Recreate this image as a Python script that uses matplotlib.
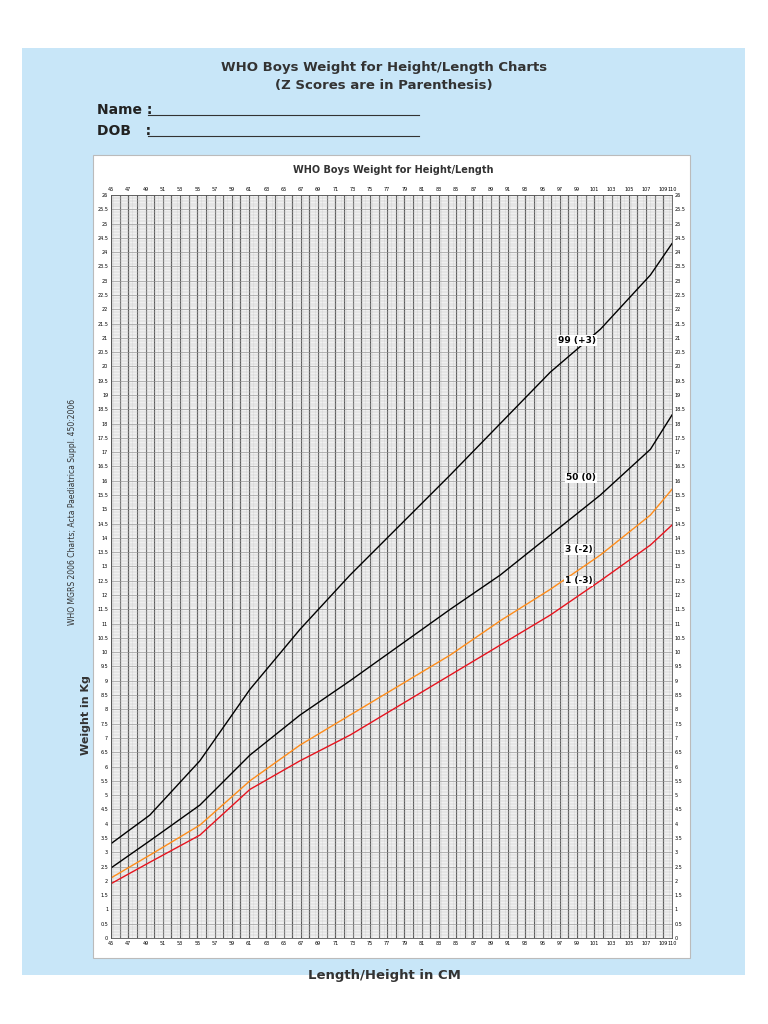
import numpy as np
import matplotlib.pyplot as plt
from matplotlib.patches import Rectangle
from matplotlib.ticker import MultipleLocator

# length/height in cm, weight in kg
length = [45, 49.5, 55.3, 61.1, 66.9, 72.7, 78.5, 84.3, 90.1, 95.9, 101.7, 107.5, 110]
p99 = [3.3, 4.3, 6.2, 8.7, 10.8, 12.7, 14.45, 16.2, 18.0, 19.8, 21.3, 23.2, 24.3]
p50 = [2.45, 3.4, 4.65, 6.4, 7.8, 9.0, 10.25, 11.5, 12.7, 14.1, 15.5, 17.1, 18.3]
p3 = [2.1, 2.9, 3.95, 5.5, 6.75, 7.8, 8.85, 9.9, 11.1, 12.2, 13.4, 14.8, 15.7]
p1 = [1.9, 2.65, 3.6, 5.2, 6.2, 7.1, 8.15, 9.2, 10.25, 11.3, 12.5, 13.75, 14.45]
xticks = list(range(45, 110, 2)) + [110]
yticks = np.arange(0, 26.01, 0.5)

fig = plt.figure(figsize=(7.68, 10.24), dpi=100)
fig.patches.append(Rectangle((0.029, 0.048), 0.941, 0.905, transform=fig.transFigure,
                             facecolor="#c8e6f8", edgecolor="none", zorder=-2))
fig.patches.append(Rectangle((0.121, 0.064), 0.777, 0.785, transform=fig.transFigure,
                             facecolor="white", edgecolor="#bbbbbb", lw=0.8, zorder=-1))

fig.text(0.5, 0.931, "WHO Boys Weight for Height/Length Charts", ha="center", fontsize=9.5, weight="bold", color="#333333")
fig.text(0.5, 0.913, "(Z Scores are in Parenthesis)", ha="center", fontsize=9.5, weight="bold", color="#333333")
fig.text(0.126, 0.889, "Name :", fontsize=10, weight="bold", color="#222222")
fig.text(0.126, 0.868, "DOB   :", fontsize=10, weight="bold", color="#222222")
fig.lines.append(plt.Line2D([0.193, 0.545], [0.888, 0.888], transform=fig.transFigure, color="#333333", lw=0.8))
fig.lines.append(plt.Line2D([0.193, 0.545], [0.867, 0.867], transform=fig.transFigure, color="#333333", lw=0.8))
fig.text(0.512, 0.831, "WHO Boys Weight for Height/Length", ha="center", fontsize=7, weight="bold", color="#333333")
fig.text(0.094, 0.5, "WHO MGRS 2006 Charts; Acta Paediatrica Suppl. 450:2006", rotation=90,
         ha="center", va="center", fontsize=5.5, color="#333333")
fig.text(0.112, 0.302, "Weight in Kg", rotation=90, ha="center", va="center", fontsize=8, weight="bold", color="#333333")
fig.text(0.5, 0.047, "Length/Height in CM", ha="center", va="center", fontsize=9.5, weight="bold", color="#333333")

ax = fig.add_axes([0.1445, 0.084, 0.7305, 0.7256])
ax.set_xlim(45, 110)
ax.set_ylim(0, 26)
ax.xaxis.set_minor_locator(MultipleLocator(0.2))
ax.yaxis.set_minor_locator(MultipleLocator(0.1))
ax.grid(which="minor", color="#c4c4c4", lw=0.35)
ax.set_xticks(np.arange(45, 111, 1), minor=False)
ax.set_yticks(yticks)
ax.grid(which="major", axis="x", color="#5a5a5a", lw=0.9)
ax.grid(which="major", axis="y", color="#999999", lw=0.5)
ax.xaxis.set_major_formatter(plt.FuncFormatter(lambda v, p: f"{int(v)}" if int(v) in xticks else ""))
ax.yaxis.set_major_formatter(plt.FuncFormatter(lambda v, p: f"{v:g}"))
ax.tick_params(which="both", length=0, labelsize=3.5, top=True, right=True,
               labeltop=True, labelright=True, pad=2)
for s in ax.spines.values():
    s.set_color("#555555")
    s.set_linewidth(0.6)

ax.plot(length, p99, color="black", lw=1)
ax.plot(length, p50, color="black", lw=1)
ax.plot(length, p3, color="#ff8c1a", lw=1)
ax.plot(length, p1, color="#e8141e", lw=1)
box = dict(facecolor="white", edgecolor="none", pad=0.5)
ax.text(101.2, 20.9, "99 (+3)", fontsize=6.5, weight="bold", ha="right", va="center", bbox=box)
ax.text(101.2, 16.1, "50 (0)", fontsize=6.5, weight="bold", ha="right", va="center", bbox=box)
ax.text(100.8, 13.6, "3 (-2)", fontsize=6.5, weight="bold", ha="right", va="center", bbox=box)
ax.text(100.8, 12.5, "1 (-3)", fontsize=6.5, weight="bold", ha="right", va="center", bbox=box)

fig.savefig("out.png", dpi=100)
